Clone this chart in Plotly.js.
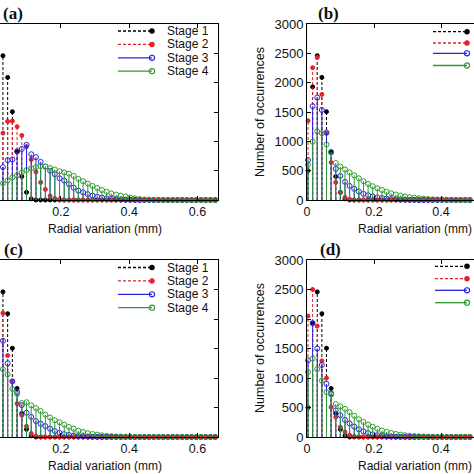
<!DOCTYPE html>
<html>
<head>
<meta charset="utf-8">
<script src="https://cdn.plot.ly/plotly-3.0.1.min.js"></script>
<style>
html,body{margin:0;padding:0;background:#fff;overflow:hidden;}
#chart{width:474px;height:474px;}
</style>
</head>
<body>
<div id="chart"></div>
<script>
// Bin centres (mm)
const bins = [0.003,0.0168,0.0306,0.0444,0.0582,0.072,0.0858,0.0996,0.1134,0.1272,
  0.141,0.1548,0.1686,0.1824,0.1962,0.21,0.2238,0.2376,0.2514,0.2652,
  0.279,0.2928,0.3066,0.3204,0.3342,0.348,0.3618,0.3756,0.3894,0.4032,
  0.417,0.4308,0.4446,0.4584,0.4722,0.486,0.4998,0.5136,0.5274,0.5412,
  0.555,0.5688,0.5826,0.5964,0.6102,0.624,0.6378,0.6516];

const stageNames = ['Stage 1','Stage 2','Stage 3','Stage 4'];
const panelLabels = ['(a)','(b)','(c)','(d)'];
const xTitle = 'Radial variation (mm)';
const yTitle = 'Number of occurrences';
const xTickVals = [0,0.2,0.4,0.6];
const yTickVals = [0,500,1000,1500,2000,2500,3000];

// Stage 1 (same in all panels)
const stage1 = [500,1930,2460,2090,1505,823,400,130,20,0,0,0,0,0,0,0,0,0,0,0,0,0,0,0,0,0,0,0,0,0,0,0,0,0,0,0,0,0,0,0,0,0,0,0,0,0,0,0];

// Panel (a)
const a2 = [700,1000,1140,1340,1345,1250,1100,910,690,480,300,180,70,25,8,0,0,0,0,0,0,0,0,0,0,0,0,0,0,0,0,0,0,0,0,0,0,0,0,0,0,0,0,0,0,0,0,0];
const a3 = [150,300,560,680,690,830,870,940,780,730,650,570,500,440,370,330,270,210,160,130,100,75,55,40,28,20,13,8,5,3,2,0,0,0,0,0,0,0,0,0,0,0,0,0,0,0,0,0];
const a4 = [150,220,284,335,385,420,465,510,540,560,578,570,545,520,490,470,450,410,360,320,280,240,205,170,140,112,92,75,60,42,28,15,8,5,3,2,0,0,0,0,0,0,0,0,0,0,0,0];

// Panel (b)
const b2 = [1350,2256,2430,1800,1137,640,300,130,45,12,0,0,0,0,0,0,0,0,0,0,0,0,0,0,0,0,0,0,0,0,0,0,0,0,0,0,0,0,0,0,0,0,0,0,0,0,0,0];
const b3 = [680,1600,1745,1535,1150,810,530,410,310,240,190,145,105,80,60,45,33,24,17,12,8,5,3,2,0,0,0,0,0,0,0,0,0,0,0,0,0,0,0,0,0,0,0,0,0,0,0,0];
const b4 = [600,994,1170,1137,945,820,630,570,520,470,420,370,320,275,235,200,170,140,115,93,75,60,48,38,30,23,17,12,9,6,4,3,2,0,0,0,0,0,0,0,0,0,0,0,0,0,0,0];

// Panel (c)
const c2 = [1600,2300,2100,1380,950,565,367,181,60,15,0,0,0,0,0,0,0,0,0,0,0,0,0,0,0,0,0,0,0,0,0,0,0,0,0,0,0,0,0,0,0,0,0,0,0,0,0,0];
const c3 = [800,1700,1630,1250,940,760,540,410,340,270,225,185,140,100,70,50,35,24,16,10,6,4,2,0,0,0,0,0,0,0,0,0,0,0,0,0,0,0,0,0,0,0,0,0,0,0,0,0];
const c4 = [900,1100,1150,1062,815,730,575,590,537,490,440,380,330,285,250,210,170,140,105,85,65,52,40,28,20,14,9,6,4,2,0,0,0,0,0,0,0,0,0,0,0,0,0,0,0,0,0,0];

// Panel (d)
const d2 = [2050,2500,1880,1290,1000,506,337,168,84,30,10,0,0,0,0,0,0,0,0,0,0,0,0,0,0,0,0,0,0,0,0,0,0,0,0,0,0,0,0,0,0,0,0,0,0,0,0,0];
const d3 = [1300,1930,1500,1220,900,740,450,370,290,230,175,130,95,65,45,30,20,13,8,5,3,2,0,0,0,0,0,0,0,0,0,0,0,0,0,0,0,0,0,0,0,0,0,0,0,0,0,0];
const d4 = [1100,1330,1150,955,760,720,560,517,477,421,360,300,255,210,175,140,110,88,68,52,40,30,22,16,11,8,5,3,2,0,0,0,0,0,0,0,0,0,0,0,0,0,0,0,0,0,0,0];

const W = 474, H = 474;
const px = v => v / W;
const py = v => 1 - v / H;

const styles = [
  {color:'#000000', dash:'3px,2px', symbol:'circle', size:4, lw:1},
  {color:'#e8202a', dash:'3px,2px', symbol:'circle', size:4, lw:1},
  {color:'#2424e0', dash:'solid', symbol:'circle-open', size:5, lw:1},
  {color:'#2f9a2f', dash:'solid', symbol:'circle-open', size:5, lw:1}
];

const panels = [
  {xa:'x',  ya:'y',  series:[stage1,a2,a3,a4]},
  {xa:'x2', ya:'y2', series:[stage1,b2,b3,b4]},
  {xa:'x3', ya:'y3', series:[stage1,c2,c3,c4]},
  {xa:'x4', ya:'y4', series:[stage1,d2,d3,d4]}
];

const traces = [];
panels.forEach((p, pi) => {
  p.series.forEach((vals, si) => {
    const st = styles[si];
    const sx = [], sy = [];
    bins.forEach((b, i) => { sx.push(b, b, null); sy.push(0, vals[i], null); });
    traces.push({type:'scatter', mode:'lines', x:sx, y:sy, xaxis:p.xa, yaxis:p.ya,
      line:{color:st.color, width:st.lw, dash:st.dash}, cliponaxis:false,
      showlegend:false, hoverinfo:'skip', name:stageNames[si]});
    traces.push({type:'scatter', mode:'markers', x:bins, y:vals, xaxis:p.xa, yaxis:p.ya,
      marker:{color:st.color, size:st.size, symbol:st.symbol, line:{color:st.color, width:1}},
      cliponaxis:false, showlegend:false, name:stageNames[si]});
  });
});

const font = {family:'Liberation Sans, Arial, sans-serif', color:'#111'};
const xCommon = {showline:true, linecolor:'#000', linewidth:1, mirror:'ticks', ticks:'inside',
  ticklen:4, tickcolor:'#000', tickvals:xTickVals, showgrid:false, zeroline:false,
  tickfont:Object.assign({size:12.5}, font)};
const yCommon = {range:[0,3000], showline:true, linecolor:'#000', linewidth:1, ticks:'inside',
  ticklen:4, tickcolor:'#000', tickvals:yTickVals, showgrid:false, zeroline:false,
  tickfont:Object.assign({size:13}, font)};

const xdomL = [0, px(218)], xdomR = [px(307), 1];
const ydomT = [py(200), py(24)], ydomB = [py(437), py(260)];
const rangeL = [0.022, 0.66], rangeR = [0, 0.4985];

const layout = {
  width:W, height:H, margin:{l:0, r:0, t:0, b:0, autoexpand:false},
  paper_bgcolor:'#fff', plot_bgcolor:'#fff', showlegend:false,
  xaxis: Object.assign({}, xCommon, {domain:xdomL, range:rangeL, anchor:'y'}),
  yaxis: Object.assign({}, yCommon, {domain:ydomT, anchor:'x', side:'right', showticklabels:false}),
  xaxis2: Object.assign({}, xCommon, {domain:xdomR, range:rangeR, anchor:'y2'}),
  yaxis2: Object.assign({}, yCommon, {domain:ydomT, anchor:'x2', side:'left'}),
  xaxis3: Object.assign({}, xCommon, {domain:xdomL, range:rangeL, anchor:'y3'}),
  yaxis3: Object.assign({}, yCommon, {domain:ydomB, anchor:'x3', side:'right', showticklabels:false}),
  xaxis4: Object.assign({}, xCommon, {domain:xdomR, range:rangeR, anchor:'y4'}),
  yaxis4: Object.assign({}, yCommon, {domain:ydomB, anchor:'x4', side:'left'}),
  annotations: [], shapes: []
};

// Panel letters
const labelPos = [[13,14],[328,14],[13,249],[330,249]];
panelLabels.forEach((t, i) => {
  layout.annotations.push({text:'<b>'+t+'</b>', xref:'paper', yref:'paper',
    x:px(labelPos[i][0]), y:py(labelPos[i][1]), xanchor:'center', yanchor:'middle',
    showarrow:false, font:{family:'Liberation Serif, Times New Roman, serif', size:17, color:'#111'}});
});
// Axis titles
const xTitlePos = [[105,229],[415,229],[105,466],[415,466]];
xTitlePos.forEach(p => layout.annotations.push({text:xTitle, xref:'paper', yref:'paper',
  x:px(p[0]), y:py(p[1]), xanchor:'center', yanchor:'middle', showarrow:false,
  font:Object.assign({size:12}, font)}));
const yTitlePos = [[260,112],[260,348]];
yTitlePos.forEach(p => layout.annotations.push({text:yTitle, xref:'paper', yref:'paper',
  x:px(p[0]), y:py(p[1]), xanchor:'center', yanchor:'middle', textangle:-90, showarrow:false,
  font:Object.assign({size:12.5}, font)}));

// Legends (drawn manually, compact spacing as in the reference)
const legends = [
  {x0:118, x1:152, ys:[31,44.4,57.8,71.2], tx:166},
  {x0:433, x1:467, ys:[31.7,43,53.3,65.5], tx:null},
  {x0:118, x1:152, ys:[267.5,280.9,294.3,307.7], tx:166},
  {x0:435, x1:467, ys:[266.3,278.7,290.3,302.7], tx:null}
];
legends.forEach(lg => {
  lg.ys.forEach((yy, si) => {
    const st = styles[si];
    layout.shapes.push({type:'line', xref:'paper', yref:'paper', x0:px(lg.x0), x1:px(lg.x1),
      y0:py(yy), y1:py(yy), line:{color:st.color, width:1.3, dash:st.dash==='solid'?'solid':'3px,2px'}});
    const r = st.symbol === 'circle' ? 2.2 : 2.6;
    layout.shapes.push({type:'circle', xref:'paper', yref:'paper',
      x0:px(lg.x1 - r), x1:px(lg.x1 + r), y0:py(yy + r), y1:py(yy - r),
      line:{color:st.color, width:1.1},
      fillcolor: st.symbol === 'circle' ? st.color : 'rgba(0,0,0,0)'});
    if (lg.tx !== null) {
      layout.annotations.push({text:stageNames[si], xref:'paper', yref:'paper',
        x:px(lg.tx), y:py(yy), xanchor:'left', yanchor:'middle', showarrow:false,
        borderpad:0, font:Object.assign({size:12}, font)});
    }
  });
});

Plotly.newPlot('chart', traces, layout, {staticPlot:true, displayModeBar:false});
</script>
</body>
</html>
